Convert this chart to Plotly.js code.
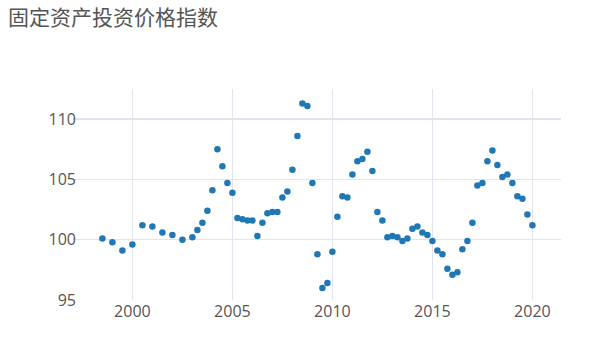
<!DOCTYPE html>
<html>
<head>
<meta charset="utf-8">
<script src="https://cdn.plot.ly/plotly-3.0.1.min.js"></script>
<style>html,body{margin:0;padding:0;background:#fff;}#chart{width:603px;height:354px;}</style>
</head>
<body>
<div id="chart"></div>
<script>
const titleText = "固定资产投资价格指数";
const years = [
  1998.5, 1999, 1999.5, 2000, 2000.5, 2001, 2001.5, 2002, 2002.5, 2003,
  2003.25, 2003.5, 2003.75, 2004, 2004.25, 2004.5, 2004.75, 2005,
  2005.25, 2005.5, 2005.75, 2006, 2006.25, 2006.5, 2006.75, 2007,
  2007.25, 2007.5, 2007.75, 2008, 2008.25, 2008.5, 2008.75, 2009,
  2009.25, 2009.5, 2009.75, 2010, 2010.25, 2010.5, 2010.75, 2011,
  2011.25, 2011.5, 2011.75, 2012, 2012.25, 2012.5, 2012.75, 2013,
  2013.25, 2013.5, 2013.75, 2014, 2014.25, 2014.5, 2014.75, 2015,
  2015.25, 2015.5, 2015.75, 2016, 2016.25, 2016.5, 2016.75, 2017,
  2017.25, 2017.5, 2017.75, 2018, 2018.25, 2018.5, 2018.75, 2019,
  2019.25, 2019.5, 2019.75, 2020
];
const priceIndex = [
  100.1, 99.8, 99.1, 99.6, 101.2, 101.1, 100.6, 100.4, 100.0, 100.2,
  100.8, 101.4, 102.4, 104.1, 107.5, 106.1, 104.7, 103.9,
  101.8, 101.7, 101.6, 101.6, 100.3, 101.4, 102.2, 102.3,
  102.3, 103.5, 104.0, 105.8, 108.6, 111.3, 111.1, 104.7,
  98.8, 96.0, 96.4, 99.0, 101.9, 103.6, 103.5, 105.4,
  106.5, 106.7, 107.3, 105.7, 102.3, 101.6, 100.2, 100.3,
  100.2, 99.9, 100.1, 100.9, 101.1, 100.6, 100.4, 99.9,
  99.1, 98.8, 97.6, 97.1, 97.3, 99.2, 99.9, 101.4,
  104.5, 104.7, 106.5, 107.4, 106.2, 105.2, 105.4, 104.7,
  103.6, 103.4, 102.1, 101.2
];
const xTickVals = [2000, 2005, 2010, 2015, 2020];
const xTickText = ["2000", "2005", "2010", "2015", "2020"];
const yTickVals = [95, 100, 105, 110];
const yTickText = ["95", "100", "105", "110"];

const trace = {
  x: years,
  y: priceIndex,
  type: 'scatter',
  mode: 'markers',
  marker: {color: '#1f77b4', size: 6.5},
  hoverinfo: 'x+y'
};

const layout = {
  width: 603,
  height: 354,
  paper_bgcolor: '#ffffff',
  plot_bgcolor: '#ffffff',
  font: {family: '"Open Sans", "Noto Sans CJK SC", sans-serif', color: '#444', size: 16},
  title: {
    text: titleText,
    font: {family: '"Noto Sans CJK SC", sans-serif', size: 21, color: '#555'},
    xref: 'container', yref: 'container',
    x: 8/603, xanchor: 'left',
    y: 1 - 18/354, yanchor: 'middle'
  },
  margin: {l: 73, r: 42, t: 89, b: 54, pad: 0},
  showlegend: false,
  xaxis: {
    range: [1997.03, 2021.43],
    tickvals: xTickVals,
    ticktext: xTickText,
    showgrid: true,
    gridcolor: '#e1e4ee',
    gridwidth: 1.5,
    zeroline: false,
    showline: false,
    ticks: '',
    tickfont: {size: 16, color: '#555'}
  },
  yaxis: {
    range: [95, 112.5],
    tickvals: yTickVals,
    ticktext: yTickText,
    showgrid: true,
    gridcolor: '#e1e4ee',
    gridwidth: 1.5,
    zeroline: false,
    showline: false,
    ticks: '',
    ticklabelstandoff: -4,
    tickfont: {size: 16, color: '#555'}
  }
};

Plotly.newPlot('chart', [trace], layout, {displayModeBar: false, staticPlot: true});
</script>
</body>
</html>
